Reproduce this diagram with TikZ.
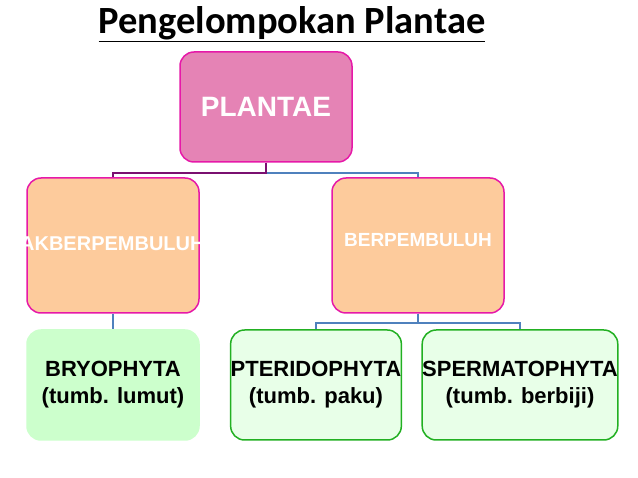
\documentclass[tikz,border=0pt]{standalone}
\usepackage{fontspec}
\setmainfont{Liberation Sans}
\newfontfamily\titlefont{Carlito}
\definecolor{pinkfill}{HTML}{E583B5}
\definecolor{mag}{HTML}{E619A8}
\definecolor{peach}{HTML}{FDCB9C}
\definecolor{gfill1}{HTML}{CCFFCC}
\definecolor{gfill2}{HTML}{E8FFE8}
\definecolor{gline}{HTML}{22B022}
\definecolor{bline}{HTML}{4F81BD}
\definecolor{pline}{HTML}{7A1070}
\begin{document}
\begin{tikzpicture}[x=1pt,y=-1pt,
 box/.style={rounded corners=14pt,line width=1.5pt,inner sep=0pt},
 con/.style={line width=2.4pt}]
\useasboundingbox[fill=white] (0,0) rectangle (638,478);
\node[font=\titlefont\bfseries\fontsize{38.5}{42}\selectfont] (title) at (292,24) {\underline{Pengelompokan Plantae}};
\node[box,draw=mag,fill=pinkfill,minimum width=172pt,minimum height=110pt,text=white,font=\bfseries\fontsize{28}{32}\selectfont] (plantae) at (266,107) {PLANTAE};
\node[box,draw=mag,fill=peach,minimum width=172pt,minimum height=135pt] (tak) at (113,245.5) {};
\node[text=white,font=\bfseries\fontsize{20}{24}\selectfont] (taklabel) at (107,244) {TAKBERPEMBULUH};
\node[box,draw=mag,fill=peach,minimum width=172pt,minimum height=135pt] (ber) at (418,245.5) {};
\node[text=white,font=\bfseries\fontsize{19}{24}\selectfont] (berlabel) at (418,240) {BERPEMBULUH};
\node[box,draw=gfill1,fill=gfill1,minimum width=172pt,minimum height=110pt,align=center,font=\bfseries\fontsize{22}{27}\selectfont] (bry) at (113,385) {BRYOPHYTA\\(tumb. lumut)};
\node[box,draw=gline,fill=gfill2,minimum width=170pt,minimum height=110pt,align=center,font=\bfseries\fontsize{22}{27}\selectfont] (pter) at (316,385) {PTERIDOPHYTA\\(tumb. paku)};
\node[box,draw=gline,fill=gfill2,minimum width=172pt,minimum height=110pt,align=center,font=\bfseries\fontsize{22}{27}\selectfont] (sper) at (520,385) {SPERMATOPHYTA\\(tumb. berbiji)};
\draw[con,draw=bline] (plantae.south) -- ++(0,10) -| (ber.north);
\draw[con,draw=pline] (plantae.south) -- ++(0,10) -| (tak.north);
\draw[con,draw=bline] (tak.south) -- (bry.north);
\draw[con,draw=bline] (ber.south) -- ++(0,9) -| (pter.north);
\draw[con,draw=bline] (ber.south) -- ++(0,9) -| (sper.north);
\end{tikzpicture}
\end{document}
